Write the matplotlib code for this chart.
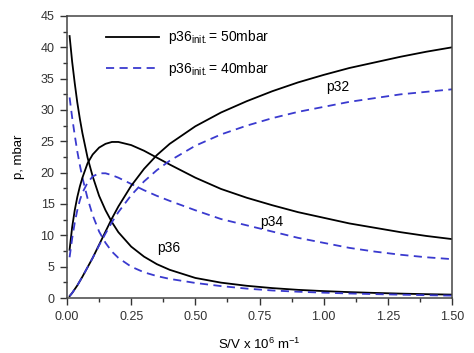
import matplotlib.pyplot as plt
from matplotlib.ticker import MultipleLocator

plt.rcParams['font.family'] = ['Liberation Sans', 'DejaVu Sans']
plt.rcParams['mathtext.fontset'] = 'custom'
plt.rcParams['mathtext.rm'] = 'Liberation Sans'
plt.rcParams['mathtext.it'] = 'Liberation Sans'

# S/V (x 10^6 m^-1)
sv = [0.01, 0.02, 0.03, 0.04, 0.05, 0.06, 0.08, 0.10, 0.125, 0.15, 0.175, 0.2,
      0.25, 0.3, 0.35, 0.4, 0.5, 0.6, 0.7, 0.8, 0.9, 1.0, 1.1, 1.2, 1.3, 1.4, 1.5]

# p36 initial = 50 mbar
p36_50 = [41.8, 37.7, 34.3, 31.2, 28.6, 26.3, 22.4, 19.4, 16.3, 14.0, 12.1, 10.5,
          8.2, 6.6, 5.4, 4.5, 3.2, 2.45, 1.95, 1.58, 1.3, 1.1, 0.94, 0.81, 0.7, 0.61, 0.54]
p34_50 = [7.7, 11.3, 14.0, 16.1, 17.8, 19.2, 21.5, 22.9, 24.0, 24.6, 24.9, 24.9,
          24.4, 23.5, 22.4, 21.3, 19.2, 17.4, 16.0, 14.8, 13.7, 12.8, 11.9, 11.2, 10.5, 9.9, 9.4]
p32_50 = [0.3, 0.8, 1.4, 2.0, 2.7, 3.4, 4.9, 6.4, 8.5, 10.6, 12.7, 14.6,
          17.9, 20.6, 22.8, 24.6, 27.4, 29.6, 31.4, 33.0, 34.4, 35.6, 36.7, 37.6, 38.5, 39.3, 40.0]

# p36 initial = 40 mbar
p36_40 = [32.0, 28.8, 26.0, 23.4, 21.2, 19.2, 15.9, 13.2, 10.6, 8.8, 7.4, 6.4,
          5.0, 4.1, 3.5, 3.05, 2.4, 1.9, 1.5, 1.2, 1.0, 0.85, 0.72, 0.62, 0.53, 0.45, 0.38]
p34_40 = [6.5, 9.5, 12.0, 14.0, 15.6, 16.8, 18.4, 19.4, 19.9, 19.9, 19.6, 19.2,
          18.2, 17.2, 16.3, 15.5, 14.0, 12.6, 11.6, 10.6, 9.6, 8.8, 8.0, 7.4, 6.9, 6.5, 6.2]
p32_40 = [0.3, 0.8, 1.4, 2.0, 2.7, 3.4, 4.9, 6.4, 8.4, 10.3, 12.1, 13.7,
          16.4, 18.6, 20.4, 21.9, 24.3, 26.1, 27.5, 28.7, 29.7, 30.5, 31.3, 31.9, 32.5, 32.9, 33.3]

fig = plt.figure(figsize=(4.74, 3.53), dpi=100)
ax = fig.add_axes([0.1414, 0.1558, 0.8122, 0.7989])

blue = '#3a3acf'
dash = (0, (4.5, 3))
ax.plot(sv, p36_50, color='black', lw=1.3, label=r'p36$_{\rm init.}$= 50mbar')
ax.plot(sv, p36_40, color=blue, lw=1.3, ls=dash, label=r'p36$_{\rm init.}$= 40mbar')
ax.plot(sv, p34_50, color='black', lw=1.3)
ax.plot(sv, p34_40, color=blue, lw=1.3, ls=dash)
ax.plot(sv, p32_50, color='black', lw=1.3)
ax.plot(sv, p32_40, color=blue, lw=1.3, ls=dash)

ax.text(1.055, 33.7, 'p32', fontsize=10, ha='center', va='center')
ax.text(0.796, 12.2, 'p34', fontsize=10, ha='center', va='center')
ax.text(0.396, 8.0, 'p36', fontsize=10, ha='center', va='center')

ax.set_xlim(0, 1.5)
ax.set_ylim(0, 45)
ax.xaxis.set_major_locator(MultipleLocator(0.25))
ax.xaxis.set_minor_locator(MultipleLocator(0.125))
ax.yaxis.set_major_locator(MultipleLocator(5))
ax.yaxis.set_minor_locator(MultipleLocator(2.5))
ax.xaxis.set_major_formatter(plt.FormatStrFormatter('%.2f'))
ax.tick_params(which='both', direction='out', top=False, right=False,
               labelsize=9, colors='#333333')
ax.tick_params(which='major', length=5, width=1, pad=4)
ax.tick_params(which='minor', length=3, width=1)
for s in ax.spines.values():
    s.set_color('#444444')
    s.set_linewidth(1.1)

ax.set_xlabel(r'S/V x 10$^6$ m$^{-1}$', fontsize=9.5, labelpad=10)
ax.set_ylabel('p, mbar', fontsize=9.5, labelpad=11)

ax.legend(loc='upper left', bbox_to_anchor=(0.07, 1.0), frameon=False,
          fontsize=10, handlelength=3.8, handletextpad=0.6, labelspacing=0.95)

plt.savefig('out.png', dpi=100)
